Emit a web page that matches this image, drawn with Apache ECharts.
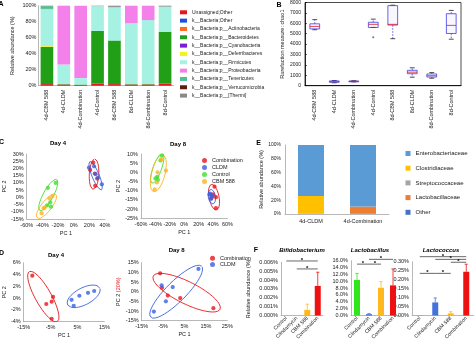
<!DOCTYPE html>
<html><head><meta charset="utf-8">
<script src="https://cdn.jsdelivr.net/npm/echarts@6/dist/echarts.min.js"></script>
<style>html,body{margin:0;padding:0;background:#fff}#c{width:474px;height:342px}</style>
</head><body><div id="c"></div>
<script>
const FONT = 'Liberation Sans';
const LBL = '#1a1a1a';
const GREY = '#a6a6a6';

// ---------- Panel A: phylum composition ----------
const sampleCats = ['4d-CBM 588','4d-CLDM','4d-Combination','4d-Control','8d-CBM 588','8d-CLDM','8d-Combination','8d-Control'];
const phylaNames = ['Unassigned;Other','k__Bacteria;Other','k__Bacteria;p__Actinobacteria','k__Bacteria;p__Bacteroidetes','k__Bacteria;p__Cyanobacteria','k__Bacteria;p__Deferribacteres','k__Bacteria;p__Firmicutes','k__Bacteria;p__Proteobacteria','k__Bacteria;p__Tenericutes','k__Bacteria;p__Verrucomicrobia','k__Bacteria;p__[Thermi]'];
const phylaColors = ['#e8141c','#1a4fe0','#ff6a1a','#21a017','#7b1fd6','#f3f31a','#a5f2e3','#f381e9','#52be94','#5e1e0e','#8a8a8a'];
const unassigned    = [2, 1.5, 1, 2.5, 2, 1.5, 1.5, 2.5];
const bactOther     = [0, 0, 0, 0, 0, 0, 0, 0];
const actino        = [0, 0, 0, 0, 0, 0, 0, 0];
const bacteroidetes = [46.5, 0.5, 0.5, 66, 54.5, 0.5, 0.5, 65];
const cyano         = [0, 0, 0, 0, 0, 0, 0, 0];
const deferri       = [1, 0, 0, 0, 0, 0, 0, 0];
const firmicutes    = [46, 24.5, 8, 31, 41.5, 76, 80, 31];
const proteo        = [0.5, 73.5, 90.5, 0, 0, 22, 18, 0];
const teneri        = [3.5, 0, 0, 0, 0.5, 0, 0, 0.5];
const verruco       = [0, 0, 0, 0, 0, 0, 0, 0];
const thermi        = [0.5, 0, 0, 0.5, 1.5, 0, 0, 1];
const phylaValues = [unassigned, bactOther, actino, bacteroidetes, cyano, deferri, firmicutes, proteo, teneri, verruco, thermi];

// ---------- Panel B: chao1 boxplots ----------
const chaoMin = [5380, 280, 370, 5600, 4520, 820, 720, 4470];
const chaoQ1  = [5460, 330, 385, 5600, 5830, 1150, 830, 5020];
const chaoMed = [5700, 390, 420, 5900, 5900, 1300, 960, 5800];
const chaoQ3  = [5950, 460, 450, 6100, 7700, 1480, 1130, 6920];
const chaoMax = [6350, 500, 480, 6400, 7740, 1720, 1260, 7240];
const chaoOutliers = [[3, 4650]];

// ---------- Panel C: PCA ----------
const c4Comb = [[25,24],[21,19],[27,16.5],[30,13],[27.5,8]];
const c4Cldm = [[19.5,20.5],[26,21.5],[28,16],[31,13.5],[36,9]];
const c4Ctrl = [[-33,6.5],[-23,10],[-30,-3.5],[-34,-5.5],[-29,-6.5]];
const c4Cbm  = [[-41,-11],[-37,-7],[-31,-0.7],[-27,0.9],[-38.5,-7.7]];
const c8Comb = [[40,-12],[38,-14],[42,-7.8],[44,-13.5],[44,-19.5]];
const c8Cldm = [[36,-11.5],[38,-12.5],[37,-14.5],[39,-13],[35,-12]];
const c8Ctrl = [[-31,9],[-33,6.5],[-40,-3.3],[-37.5,-2.4],[-36.5,-4.2]];
const c8Cbm  = [[-32,7],[-37,0],[-25.5,1],[-41,-9.3],[-38,-5.5]];
// ellipses: [cx, cy, ax, ay, bx, by] in data units
const c4EllComb = [26, 16, 1.2, 10.5, 6, -0.4];
const c4EllCldm = [28, 15, 8, -9.5, 3, 2.5];
const c4EllCtrl = [-32.5, 1.6, 11.5, 10.4, 4, -3.2];
const c4EllCbm  = [-34.8, -6.2, 12.6, 7.8, 3, -3.5];
const c8EllComb = [41.3, -13.5, 3.5, -7, 6.8, 0.5];
const c8EllCldm = [38.3, -13.2, 2.5, -3.8, 4.5, 1];
const c8EllCtrl = [-37.4, 2.2, 7.4, 8.2, 5.5, -0.8];
const c8EllCbm  = [-36, -0.5, 6.5, 10, 9, -1];

// ---------- Panel D: PCA ----------
const d4Comb = [[-11.8,3.8],[-4.1,0.2],[-4.6,-0.6],[-6.6,-1.0],[-4.6,-3.5]];
const d4Cldm = [[2.8,-0.3],[5.7,0.4],[3.6,-1.3],[8.9,0.9],[11.2,1.2]];
const d8Comb = [[-6.4,9.5],[-5.5,2],[-2.8,-2],[3,-3.3],[18.5,-8.5]];
const d8Cldm = [[-5.7,3.3],[-0.5,2.4],[-3.7,-5],[-9.3,-10.3],[11.5,11.8]];
const d4EllComb = [-7.7, 0.25, -5.2, 4.25, 2.6, 0.66];
const d4EllCldm = [7.3, 0.3, 6, 1.4, -1.3, 1.3];
const d8EllComb = [6, -0.5, 15.6, -8.6, 2.3, 5.1];
const d8EllCldm = [1.1, 0, 11.9, 13.2, -3.3, 3.65];

// ---------- Panel E: family composition ----------
const eCats = ['4d-CLDM','4d-Combination'];
const famNames = ['Enterobacteriaceae','Clostridiaceae','Streptococcaceae','Lactobacillaceae','Other'];
const famColors = ['#5b9bd5','#ffc000','#a5a5a5','#ed7d31','#4472c4'];
const famEntero = [73.8, 88.7];
const famClost  = [26, 0];
const famStrep  = [0, 1.2];
const famLacto  = [0, 9.8];
const famOther  = [0.2, 0.3];

// ---------- Panel F: genus abundances ----------
const fCats = ['Control','Clindamycin','CBM 588','Combination'];
const fColors = ['#2ee61a','#4472dd','#ffb81e','#ee1111'];
const bifidoMean = [0, 0, 0.00064, 0.00334];
const bifidoErr  = [0, 0, 0.00064, 0.00154];
const lactobMean = [10.4, 0.4, 8.1, 8.8];
const lactobErr  = [1.9, 0.15, 1.8, 4.8];
const lactocMean = [0.002, 0.073, 0.012, 0.244];
const lactocErr  = [0, 0.025, 0.009, 0.042];
const bifidoSig = [[0,3,0.00615],[1,3,0.00525]];
const lactobSig = [[0,1,15.0],[1,2,15.0],[1,3,16.4]];
const lactocSig = [[0,1,0.235],[1,2,0.235],[0,3,0.328],[1,3,0.313],[2,3,0.297]];

// ---------- helpers ----------
function ellipse(p){
  const pts=[];
  for(let k=0;k<=90;k++){const t=k/90*2*Math.PI;
    pts.push([p[0]+p[2]*Math.cos(t)+p[4]*Math.sin(t), p[1]+p[3]*Math.cos(t)+p[5]*Math.sin(t)]);}
  return pts;
}
const pctFmt = v => v + '%';
function valAxis(gi, min, max, interval, fmt, o){
  o = o || {};
  return {type:'value', gridIndex:gi, min, max, interval,
    name:o.name||'', nameLocation:'middle', nameGap:o.nameGap||10,
    nameTextStyle:Object.assign({fontSize:5.5, color:LBL, fontFamily:FONT}, o.nameStyle||{}),
    splitLine:{show:false},
    axisLine:{show:o.line!==false, onZero:false, lineStyle:{color:o.lineColor||GREY, width:0.8}},
    axisTick:o.tick||{show:false},
    axisLabel:{fontSize:o.fs||5.5, color:LBL, margin:o.margin||3, formatter:fmt, fontFamily:FONT}};
}
function catAxis(gi, data, o){
  o = o || {};
  return {type:'category', gridIndex:gi, data,
    axisLine:{show:true, onZero:false, lineStyle:{color:o.lineColor||GREY, width:0.8}},
    axisTick:{show:false},
    axisLabel:{interval:0, rotate:o.rotate||0, fontSize:o.fs||5.5, color:LBL, margin:o.margin||3, fontFamily:FONT}};
}

const grid = [
  {left:38.5, top:5.7, width:135, height:80},
  {left:305, top:1.5, width:156, height:84.2, show:true, borderColor:'#000', borderWidth:0.7},
  {left:23, top:154, width:82, height:65},
  {left:141, top:154, width:86.5, height:64.3},
  {left:285, top:145, width:104, height:69},
  {left:22.7, top:262.7, width:81.7, height:59},
  {left:141.7, top:262.7, width:85.6, height:58},
  {left:281, top:262.3, width:42, height:53.4},
  {left:351, top:260.7, width:48, height:55},
  {left:412, top:261.7, width:62, height:54}
];

const xAxis = [
  catAxis(0, sampleCats, {rotate:90, margin:4}),
  catAxis(1, sampleCats, {rotate:90, margin:4, lineColor:'#000'}),
  valAxis(2, -60, 40, 20, pctFmt, {name:'PC 1', nameGap:11}),
  valAxis(3, -60, 60, 20, pctFmt, {name:'PC 1', nameGap:11}),
  catAxis(4, eCats, {margin:4}),
  valAxis(5, -15, 15, 10, pctFmt, {name:'PC 1', nameGap:11}),
  valAxis(6, -15, 25, 10, pctFmt, {name:'PC 1', nameGap:11}),
  catAxis(7, fCats, {rotate:45, margin:2, fs:5.2}),
  catAxis(8, fCats, {rotate:45, margin:2, fs:5.2}),
  catAxis(9, fCats, {rotate:45, margin:2, fs:5.2})
];
const yAxis = [
  valAxis(0, 0, 100, 20, pctFmt, {name:'Relative abundance (%)', nameGap:23, margin:2}),
  valAxis(1, 0, 8000, 1000, v=>v, {name:'Rarefaction measure: chao1', nameGap:19, fs:5, margin:4, lineColor:'#000', tick:{show:true, inside:true, length:2, lineStyle:{color:'#000', width:0.6}}}),
  valAxis(2, -15, 30, 5, pctFmt, {name:'PC 2', nameGap:14}),
  valAxis(3, -25, 10, 5, pctFmt, {name:'PC 2', nameGap:14}),
  valAxis(4, 0, 100, 20, pctFmt, {name:'Relative abundance (%)', nameGap:12, fs:5, margin:4}),
  valAxis(5, -4, 6, 2, pctFmt, {name:'PC 2', nameGap:14}),
  Object.assign(valAxis(6, -15, 15, 5, pctFmt, {nameGap:15}), {name:'{a|PC 2 }{b|(20%)}', nameTextStyle:{fontFamily:FONT, rich:{a:{fontSize:5.5,color:LBL,fontFamily:FONT}, b:{fontSize:5.5,color:'#e8141b',fontFamily:FONT}}}}),
  valAxis(7, 0, 0.006, 0.001, v=>v.toFixed(3)+'%', {name:'Relative abundance (%)', nameGap:30, margin:3}),
  valAxis(8, 0, 16, 2, v=>v.toFixed(1)+'%', {margin:3}),
  valAxis(9, 0, 0.30, 0.05, v=>v.toFixed(2)+'%', {margin:3})
];

const series = [];
phylaNames.forEach((n,i)=>series.push({type:'bar', name:n, stack:'phyla', xAxisIndex:0, yAxisIndex:0,
  data:phylaValues[i], barWidth:'75%', itemStyle:{color:phylaColors[i]}, silent:true}));

function boxRender(params, api){
  const i = api.value(0);
  const w = api.size([1,0])[0]*0.5;
  const pMin=api.coord([i,api.value(1)]), pQ1=api.coord([i,api.value(2)]), pMed=api.coord([i,api.value(3)]),
        pQ3=api.coord([i,api.value(4)]), pMax=api.coord([i,api.value(5)]);
  const x = pMed[0], blue='#3c3ce6';
  const dash = {stroke:blue, lineWidth:0.7, lineDash:[1.8,1.2], fill:null};
  const cap = {stroke:'#000', lineWidth:0.7};
  return {type:'group', children:[
    {type:'line', shape:{x1:x,y1:pQ3[1],x2:x,y2:pMax[1]}, style:dash},
    {type:'line', shape:{x1:x,y1:pQ1[1],x2:x,y2:pMin[1]}, style:dash},
    {type:'line', shape:{x1:x-w/4,y1:pMax[1],x2:x+w/4,y2:pMax[1]}, style:cap},
    {type:'line', shape:{x1:x-w/4,y1:pMin[1],x2:x+w/4,y2:pMin[1]}, style:cap},
    {type:'rect', shape:{x:x-w/2,y:pQ3[1],width:w,height:Math.max(0.8,pQ1[1]-pQ3[1])}, style:{fill:'rgba(200,190,245,0.12)', stroke:blue, lineWidth:0.8}},
    {type:'line', shape:{x1:x-w/2,y1:pMed[1],x2:x+w/2,y2:pMed[1]}, style:{stroke:'#e8141b', lineWidth:0.8}}
  ]};
}
series.push({type:'custom', xAxisIndex:1, yAxisIndex:1, renderItem:boxRender, silent:true,
  data: sampleCats.map((c,i)=>[i, chaoMin[i], chaoQ1[i], chaoMed[i], chaoQ3[i], chaoMax[i]])});
series.push({type:'scatter', xAxisIndex:1, yAxisIndex:1, data:chaoOutliers, symbolSize:2, itemStyle:{color:'#3c3ce6'}, silent:true});

const RED='#e8141b', BLUE='#3a5fe0', GREEN='#3ee02a', ORANGE='#ffb21e';
function addPca(gi, groups){
  groups.forEach(g=>{
    series.push({type:'line', name:'ell', xAxisIndex:gi, yAxisIndex:gi, data:ellipse(g.ell), symbol:'none', showSymbol:false,
      lineStyle:{color:g.color, width:0.9}, silent:true, z:1, animation:false});
  });
  groups.forEach(g=>{
    series.push({type:'scatter', name:g.name, xAxisIndex:gi, yAxisIndex:gi, data:g.pts, symbolSize:4.2,
      itemStyle:{color:g.color}, silent:true, z:3});
  });
}
addPca(2, [{name:'Combination',pts:c4Comb,ell:c4EllComb,color:RED},{name:'CLDM',pts:c4Cldm,ell:c4EllCldm,color:BLUE},
           {name:'Control',pts:c4Ctrl,ell:c4EllCtrl,color:GREEN},{name:'CBM 588',pts:c4Cbm,ell:c4EllCbm,color:ORANGE}]);
addPca(3, [{name:'Combination',pts:c8Comb,ell:c8EllComb,color:RED},{name:'CLDM',pts:c8Cldm,ell:c8EllCldm,color:BLUE},
           {name:'Control',pts:c8Ctrl,ell:c8EllCtrl,color:GREEN},{name:'CBM 588',pts:c8Cbm,ell:c8EllCbm,color:ORANGE}]);
addPca(5, [{name:'Combination',pts:d4Comb,ell:d4EllComb,color:RED},{name:'CLDM',pts:d4Cldm,ell:d4EllCldm,color:BLUE}]);
addPca(6, [{name:'Combination',pts:d8Comb,ell:d8EllComb,color:RED},{name:'CLDM',pts:d8Cldm,ell:d8EllCldm,color:BLUE}]);

const famStackOrder = [[4,famOther],[3,famLacto],[2,famStrep],[1,famClost],[0,famEntero]];
famStackOrder.forEach(([k,vals])=>series.push({type:'bar', name:famNames[k], stack:'fam', xAxisIndex:4, yAxisIndex:4,
  data:vals, barWidth:26, itemStyle:{color:famColors[k]}, silent:true}));

function errRender(params, api){
  const i=api.value(0), m=api.value(1), e=api.value(2);
  if(!(e>0)) return {type:'group', children:[]};
  const p0=api.coord([i,m]), p1=api.coord([i,m+e]);
  const c=fColors[i];
  return {type:'group', children:[
    {type:'line', shape:{x1:p0[0],y1:p0[1],x2:p1[0],y2:p1[1]}, style:{stroke:c, lineWidth:0.8}},
    {type:'line', shape:{x1:p1[0]-1.6,y1:p1[1],x2:p1[0]+1.6,y2:p1[1]}, style:{stroke:c, lineWidth:0.8}}]};
}
function sigRender(params, api){
  const a=api.coord([api.value(0), api.value(2)]), b=api.coord([api.value(1), api.value(2)]);
  return {type:'group', children:[
    {type:'line', shape:{x1:a[0],y1:a[1],x2:b[0],y2:b[1]}, style:{stroke:'#000', lineWidth:0.6}},
    {type:'text', x:(a[0]+b[0])/2, y:a[1]+2.2, style:{text:'*', font:'bold 6px '+FONT, textAlign:'center', textVerticalAlign:'bottom', align:'center', verticalAlign:'bottom', fill:'#000'}}]};
}
function addF(gi, mean, err, sig){
  series.push({type:'bar', xAxisIndex:gi, yAxisIndex:gi, barWidth:6, silent:true,
    data: mean.map((v,i)=>({value:v, itemStyle:{color:fColors[i]}}))});
  series.push({type:'custom', xAxisIndex:gi, yAxisIndex:gi, renderItem:errRender, silent:true, clip:false,
    data: mean.map((v,i)=>[i, v, err[i]])});
  series.push({type:'custom', xAxisIndex:gi, yAxisIndex:gi, renderItem:sigRender, silent:true, clip:false, data: sig});
}
addF(7, bifidoMean, bifidoErr, bifidoSig);
addF(8, lactobMean, lactobErr, lactobSig);
addF(9, lactocMean, lactocErr, lactocSig);

const legend = [
  {data:phylaNames, orient:'vertical', left:175, top:4.3, itemWidth:7, itemHeight:4, itemGap:2.33,
   icon:'rect', textStyle:{fontSize:5, lineHeight:6, color:LBL, fontFamily:FONT}, selectedMode:false},
  {data:['Combination','CLDM','Control','CBM 588'], orient:'vertical', left:197, top:152.5, itemWidth:5, itemHeight:5, itemGap:1,
   icon:'circle', textStyle:{fontSize:5.5, lineHeight:5, color:LBL, fontFamily:FONT}, selectedMode:false},
  {data:['Combination','CLDM'], orient:'vertical', left:205, top:250.2, itemWidth:5, itemHeight:5, itemGap:0.4,
   icon:'circle', textStyle:{fontSize:5.5, lineHeight:5, color:LBL, fontFamily:FONT}, selectedMode:false},
  {data:famNames, orient:'vertical', left:400.5, top:145.5, itemWidth:5, itemHeight:5, itemGap:8.7,
   icon:'rect', textStyle:{fontSize:6, lineHeight:6, color:LBL, fontFamily:FONT}, selectedMode:false}
];

function txt(t, x, y, font, align){
  return {type:'text', x, y, style:{text:t, font, fill:'#000', textAlign:align||'center', textVerticalAlign:'middle', align:align||'center', verticalAlign:'middle'}};
}
const bold7 = 'bold 7px '+FONT, bold6 = 'bold 6px '+FONT, it6 = 'italic bold 6px '+FONT;
const graphic = [
  txt('A', -1.5, 4.5, bold7, 'left'), txt('B', 279, 5, bold7), txt('C', 1.5, 142.5, bold7),
  txt('D', 1.5, 253, bold7), txt('E', 258.5, 143, bold7), txt('F', 256, 250, bold7),
  txt('Day 4', 58, 143.5, bold6), txt('Day 8', 178, 144, bold6),
  txt('Day 4', 56, 255, bold6), txt('Day 8', 176.7, 250.5, bold6),
  txt('Bifidobacterium', 302, 250.5, it6), txt('Lactobacillus', 370, 250.5, it6), txt('Lactococcus', 441, 250.5, it6)
];

const chart = echarts.init(document.getElementById('c'), null, {renderer:'canvas'});
chart.setOption({animation:false, backgroundColor:'#fff', textStyle:{fontFamily:FONT},
  grid, xAxis, yAxis, series, legend, graphic});
</script></body></html>
